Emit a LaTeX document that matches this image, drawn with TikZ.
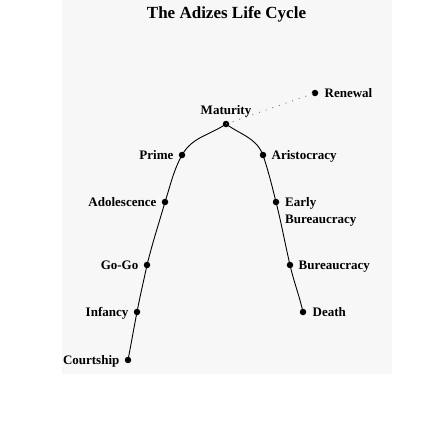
\documentclass[tikz,border=0pt]{standalone}
\usepackage{fontspec}
\setmainfont{Liberation Serif}
\begin{document}
\begin{tikzpicture}[x=1pt,y=1pt,
  dot/.style={circle,fill=black,inner sep=0pt,minimum size=6.5pt},
  lab/.style={inner sep=0pt,font=\fontsize{13}{17}\selectfont\bfseries},
  curve/.style={line width=0.9pt,black},
  renew/.style={gray,line width=0.9pt,dash pattern=on 1pt off 6pt}]
\useasboundingbox (0,0) rectangle (421,-447);
\fill[black!3] (62,0) rectangle (392,-374);
% title
\node[inner sep=0pt,font=\fontsize{17}{20}\selectfont\bfseries,anchor=base] (title) at (226.5,-19) {The Adizes Life Cycle};
% dots
\node[dot] (court) at (128,-360) {};
\node[dot] (inf)   at (137,-312) {};
\node[dot] (gogo)  at (147,-265) {};
\node[dot] (adol)  at (165,-202) {};
\node[dot] (prime) at (182,-155) {};
\node[dot] (mat)   at (226,-124) {};
\node[dot] (arist) at (263,-155) {};
\node[dot] (early) at (276,-202) {};
\node[dot] (bur)   at (290,-265) {};
\node[dot] (death) at (303,-312) {};
\node[dot] (ren)   at (315,-93) {};
% curve
\draw[curve] (court.center) to[out=79,in=-101] (inf.center)
  to[out=79,in=-102] (gogo.center)
  to[out=76,in=-106] (adol.center)
  to[out=72,in=-118] (prime.center)
  to[out=60,in=-146] (mat.center)
  to[out=-36,in=112] (arist.center)
  to[out=-72,in=104] (early.center)
  to[out=-76,in=103] (bur.center)
  to[out=-77,in=103] (death.center);
\draw[renew] (mat.center) -- (ren.center);
% labels
\node[lab,anchor=base east] (lcourt) at ([xshift=-5pt,yshift=-4.3pt]court.west) {Courtship};
\node[lab,anchor=base east] (linf) at ([xshift=-5pt,yshift=-4.3pt]inf.west) {Infancy};
\node[lab,anchor=base east] (lgogo) at ([xshift=-5pt,yshift=-4.3pt]gogo.west) {Go-Go};
\node[lab,anchor=base east] (ladol) at ([xshift=-5pt,yshift=-4.3pt]adol.west) {Adolescence};
\node[lab,anchor=base east] (lprime) at ([xshift=-5pt,yshift=-4.3pt]prime.west) {Prime};
\node[lab,anchor=base] (lmat) at (226,-114) {Maturity};
\node[lab,anchor=base west] (larist) at ([xshift=5pt,yshift=-4.3pt]arist.east) {Aristocracy};
\node[lab,anchor=north west,align=left] (learly) at (285,-197.5) {Early\\Bureaucracy};
\node[lab,anchor=base west] (lbur) at ([xshift=5pt,yshift=-4.3pt]bur.east) {Bureaucracy};
\node[lab,anchor=base west] (ldeath) at ([xshift=6pt,yshift=-4.3pt]death.east) {Death};
\node[lab,anchor=base west] (lren) at ([xshift=6pt,yshift=-4.3pt]ren.east) {Renewal};
\end{tikzpicture}
\end{document}
